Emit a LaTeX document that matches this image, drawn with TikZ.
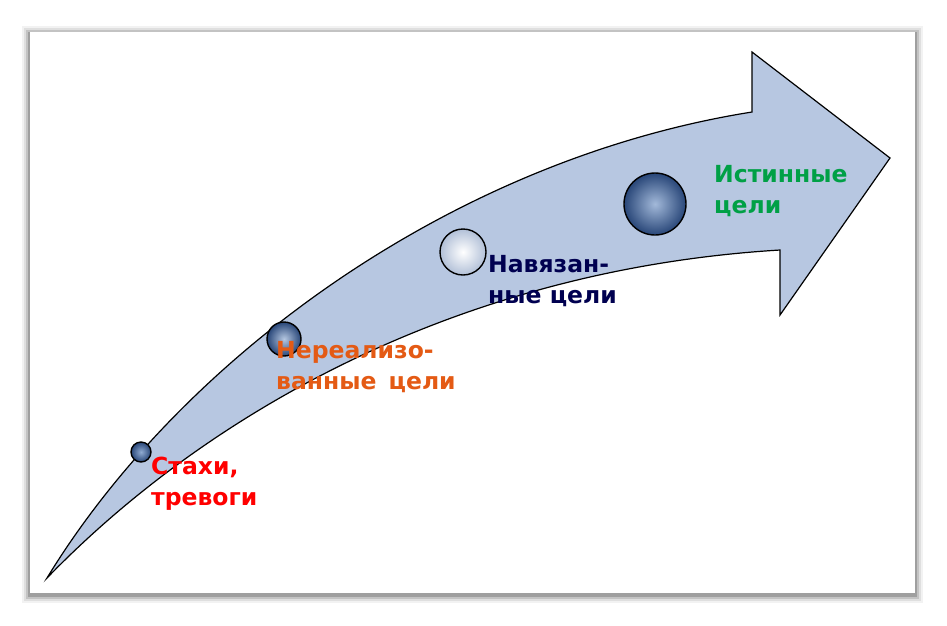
\documentclass[tikz,border=0pt]{standalone}
\usepackage{fontspec}
\setmainfont{DejaVu Sans}
\begin{document}
\begin{tikzpicture}[x=1pt,y=-1pt,
  lbl/.style={font=\bfseries\fontsize{23.5}{31}\selectfont,align=left,anchor=north west,inner sep=0pt},
  bub/.style={circle,draw=black,line width=1.4pt,inner sep=0pt}]
\useasboundingbox (0,0) rectangle (947,625);
\fill[white] (0,0) rectangle (947,625);
\foreach \i/\o in {8/0.05,6/0.08,4/0.12,2/0.18}{
  \fill[black,opacity=\o] (30-\i,32-\i+2) rectangle (915+\i,593+\i+2);}
\fill[white] (30,32) rectangle (915,593);
\definecolor{band}{RGB}{183,199,225}
\definecolor{steel}{RGB}{70,115,180}
\definecolor{steeldk}{RGB}{40,70,120}
\draw[fill=band,line width=1.2pt,line join=miter]
  (47,578) .. controls (180,360) and (450,160) .. (752,112)
  -- (752,52) -- (890,158) -- (780,315) -- (780,250)
  .. controls (450,270) and (200,420) .. (47,578) -- cycle;
\node[bub,minimum size=20pt,inner color=steel!60!white,outer color=steeldk] (b1) at (141,452) {};
\node[bub,minimum size=34pt,inner color=steel!40!white,outer color=steeldk] (b2) at (284,339) {};
\node[bub,minimum size=46pt,inner color=white,outer color=band!90!gray] (b3) at (463,252) {};
\node[bub,minimum size=62pt,inner color=steel!50!white,outer color=steeldk] (b4) at (655,204) {};
\node[lbl,text={rgb,255:red,255;green,0;blue,0}] (t1) at (151,457) {Стахи,\\тревоги};
\node[lbl,text={rgb,255:red,228;green,90;blue,20}] (t2) at (276,341) {Нереализо-\\ванные\, цели};
\node[lbl,text={rgb,255:red,0;green,0;blue,80}] (t3) at (488,255) {Навязан-\\ные цели};
\node[lbl,text={rgb,255:red,0;green,160;blue,70}] (t4) at (714,165) {Истинные\\цели};
\end{tikzpicture}
\end{document}
